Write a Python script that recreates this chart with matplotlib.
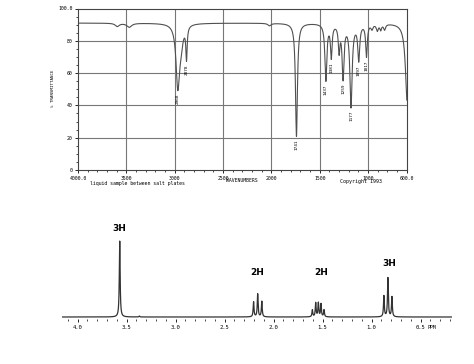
import numpy as np
import matplotlib
matplotlib.use('Agg')
import matplotlib.pyplot as plt
from matplotlib.ticker import MultipleLocator, FixedLocator

# IR spectrum: absorption bands (cm-1, depth in %T, half width in cm-1)
ir_base = 91.0
ir_wn = [3594, 3470, 2968, 2935, 2878, 2020, 1741, 1437, 1381, 1300, 1259, 1177, 1097, 1017, 960, 905, 870, 830, 595]
ir_depth = [2.0, 2.5, 38, 10, 20, 1.5, 70, 35, 20, 16, 33, 51, 22, 20, 3, 4, 3.5, 3.5, 50]
ir_hw = [25, 30, 22, 25, 8, 20, 12, 12, 10, 10, 12, 14, 12, 10, 12, 12, 10, 12, 22]
ir_peak_labels = ['2968', '2878', '1741', '1437', '1381', '1259', '1177', '1097', '1017']

ir_xticks = [4000, 3500, 3000, 2500, 2000, 1500, 1000, 600]
ir_xticklabels = ['4000.0', '3500', '3000', '2500', '2000', '1500', '1000', '600.0']
ir_yticks = [0, 20, 40, 60, 80, 100]
ir_yticklabels = ['0', '20', '40', '60', '80', '100.0']

# 1H NMR: individual lines (ppm, relative height)
nmr_ppm = [3.571, 3.37,
           2.205, 2.163, 2.121,
           1.605, 1.571, 1.544, 1.517, 1.486,
           0.875, 0.834, 0.793]
nmr_height = [100, 1.2,
              19.7, 30.3, 20.5,
              9.2, 18.4, 18.4, 17.0, 9.2,
              27.6, 51.3, 26.3]
nmr_groups = ['3H', '2H', '2H', '3H']
nmr_group_ppm = [3.571, 2.163, 1.51, 0.816]
nmr_group_y = [117, 59, 59, 70]
nmr_ticks = [4.0, 3.5, 3.0, 2.5, 2.0, 1.5, 1.0, 0.5]
nmr_ticklabels = ['4.0', '3.5', '3.0', '2.5', '2.0', '1.5', '1.0', '0.5']


def lorentz(x, x0, hw):
    return 1.0 / (1.0 + ((x - x0) / hw) ** 2)


fig = plt.figure(figsize=(4.74, 3.64), dpi=100)
mono = 'DejaVu Sans Mono'

# ---------------- IR ----------------
ax = fig.add_axes([78 / 474, 1 - 170 / 364, 328.8 / 474, 161.5 / 364])
wn = np.linspace(4000, 600, 6000)
T = np.full_like(wn, ir_base)
for c, d, w in zip(ir_wn, ir_depth, ir_hw):
    T -= d * lorentz(wn, c, w)
ax.plot(wn, T, color='#505050', lw=0.8)
ax.set_xlim(4000, 600)
ax.set_ylim(0, 100)

ax.xaxis.set_major_locator(FixedLocator(ir_xticks))
ax.set_xticklabels(ir_xticklabels, fontsize=3.5, family=mono)
ax.xaxis.set_minor_locator(MultipleLocator(100))
ax.yaxis.set_major_locator(FixedLocator(ir_yticks))
ax.set_yticklabels(ir_yticklabels, fontsize=3.5, family=mono)
ax.yaxis.set_minor_locator(MultipleLocator(5))
ax.tick_params(which='major', length=2.5, width=0.6, pad=1.5)
ax.tick_params(which='minor', length=1.5, width=0.5)
for v in ir_xticks[1:-1]:
    ax.axvline(v, color='#777777', lw=0.8, zorder=0)
for v in ir_yticks[1:-1]:
    ax.axhline(v, color='#777777', lw=0.8, zorder=0)
for s in ax.spines.values():
    s.set_linewidth(0.8)
    s.set_color('#444444')

for lab in ir_peak_labels:
    c = float(lab)
    sel = np.abs(wn - c) < 15
    i = np.argmin(np.where(sel, T, 1e9))
    ax.annotate(lab, xy=(wn[i], T[i]), xytext=(0, -2), textcoords='offset points',
                rotation=90, ha='center', va='top', fontsize=3.2, family=mono)

fig.text(53 / 474, 1 - 88 / 364, '% TRANSMITTANCE', rotation=90, ha='center', va='center',
         fontsize=3, family=mono)
fig.text(90 / 474, 1 - 184 / 364, 'liquid sample between salt plates', ha='left', va='center',
         fontsize=3.5, family=mono)
fig.text(242 / 474, 1 - 181 / 364, 'WAVENUMBERS', ha='center', va='center',
         fontsize=3.4, family=mono)
fig.text(361 / 474, 1 - 182 / 364, 'Copyright 1993', ha='center', va='center',
         fontsize=3.6, family=mono)

# ---------------- NMR ----------------
ax2 = fig.add_axes([62 / 474, 1 - 319 / 364, 390 / 474, 84 / 364])
ppm = np.linspace(4.16, 0.18, 8000)
I = np.zeros_like(ppm)
for c, h in zip(nmr_ppm, nmr_height):
    I += h * lorentz(ppm, c, 0.005)
ax2.plot(ppm, I, color='#333333', lw=0.9)
ax2.set_xlim(4.16, 0.18)
ax2.set_ylim(-2.63, 107.9)
for s in ['top', 'left', 'right', 'bottom']:
    ax2.spines[s].set_visible(False)
ax2.set_yticks([])
ax2.xaxis.set_major_locator(FixedLocator(nmr_ticks))
ax2.set_xticklabels(nmr_ticklabels, fontsize=4, family=mono)
ax2.xaxis.set_minor_locator(MultipleLocator(0.1))
ax2.tick_params(which='major', length=2.5, width=0.6, pad=1.5)
ax2.tick_params(which='minor', length=1.5, width=0.5)
ax2.annotate('PPM', xy=(0.5, 0), xycoords=ax2.get_xaxis_transform(), xytext=(5, -4),
             textcoords='offset points', ha='left', va='top', fontsize=3.5, family=mono)

for lab, x, y in zip(nmr_groups, nmr_group_ppm, nmr_group_y):
    ax2.text(x, y, lab, ha='center', va='center', fontsize=6.5, fontweight='bold',
             clip_on=False)

fig.savefig('out.png', dpi=100)
